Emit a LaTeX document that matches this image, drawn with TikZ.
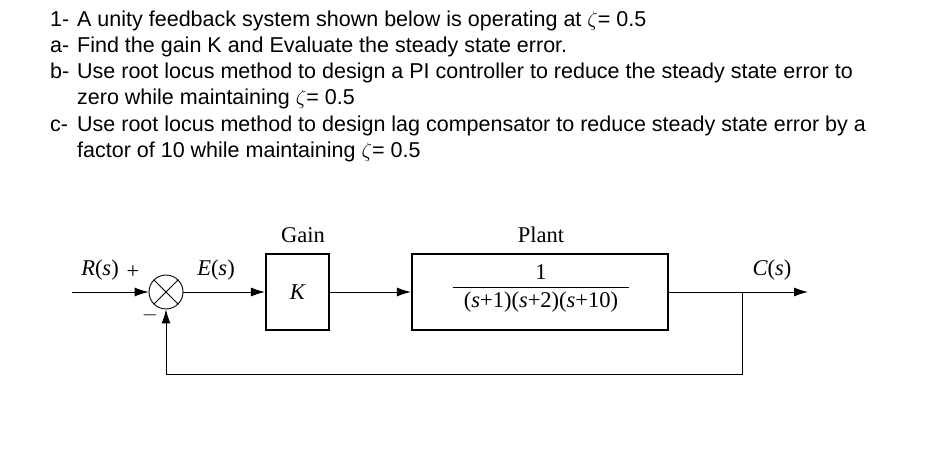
\documentclass[tikz,border=0pt]{standalone}
\usepackage{amsmath}
\usepackage{fontspec}
\setmainfont{Liberation Serif}
\newfontfamily\arialf{Liberation Sans}
\usetikzlibrary{arrows.meta}
\begin{document}
\begin{tikzpicture}[x=1pt,y=-1pt,
  txt/.style={anchor=base west,font=\arialf\fontsize{21.5}{24}\selectfont,inner sep=0pt},
  blk/.style={draw,line width=2.2pt},
  lbl/.style={font=\fontsize{22.5}{25}\selectfont},
  sig/.style={-{Latex[length=14pt,width=9pt]},line width=0.9pt}]
\useasboundingbox (0,0) rectangle (948,454);
% problem text
\node[txt] at (50,27) {1-};
\node[txt] at (77,27) {A unity feedback system shown below is operating at $\zeta$= 0.5};
\node[txt] at (50,53) {a-};
\node[txt] at (77,53) {Find the gain K and Evaluate the steady state error.};
\node[txt] at (50,79) {b-};
\node[txt] at (77,79) {Use root locus method to design a PI controller to reduce the steady state error to};
\node[txt] at (77,105) {zero while maintaining $\zeta$= 0.5};
\node[txt] at (50,132) {c-};
\node[txt] at (77,132) {Use root locus method to design lag compensator to reduce steady state error by a};
\node[txt] at (77,158) {factor of 10 while maintaining $\zeta$= 0.5};
% block diagram
\coordinate (in) at (72,292);
\node[draw,circle,minimum size=34pt,inner sep=0pt,line width=0.9pt] (sum) at (166,292) {};
\draw[line width=0.9pt] (sum.north west) -- (sum.south east) (sum.north east) -- (sum.south west);
\node[blk,minimum width=63pt,minimum height=76pt] (gain) at (297.5,292) {};
\node[lbl] at (gain.center) {\itshape K};
\node[blk,minimum width=256pt,minimum height=76pt] (plant) at (540,292) {};
\node[lbl,inner sep=1pt] (num) at (541,272) {1};
\node[lbl,inner sep=1pt] (den) at (541,302) {(\textit{s}+1)(\textit{s}+2)(\textit{s}+10)};
\draw[line width=0.8pt] ([xshift=-10pt]den.west |- 0,287) -- ([xshift=10pt]den.east |- 0,287);
\coordinate (out) at (808,292);
\coordinate (br) at (742,292);
\coordinate (fb) at (742,374);
\coordinate (fs) at (166,374);
\draw[sig] (in) -- (sum);
\draw[sig] (sum) -- (gain);
\draw[sig] (gain) -- (plant);
\draw[sig] (plant) -- (out);
\draw[sig] (br) -- (fb) -- (fs) -- (sum);
\node[lbl] at (100,270) {\itshape R\upshape(\itshape s\upshape)};
\node[lbl] at (133,272) {+};
\node[lbl] at (150,315) {$-$};
\node[lbl] at (216,270) {\itshape E\upshape(\itshape s\upshape)};
\node[lbl] at (303,235) {Gain};
\node[lbl] at (541,235) {Plant};
\node[lbl] at (772,270) {\itshape C\upshape(\itshape s\upshape)};
\end{tikzpicture}
\end{document}
